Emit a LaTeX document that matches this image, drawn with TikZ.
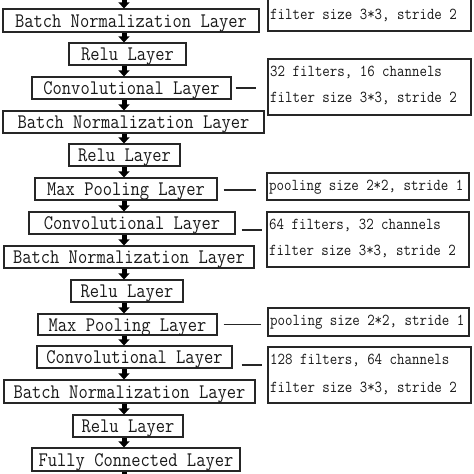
\documentclass[tikz,border=0pt]{standalone}
\usepackage{fontspec}
\usetikzlibrary{arrows.meta,calc}
\newcommand{\lbl}[1]{\scalebox{1}[1.15]{#1}}
\begin{document}
\begin{tikzpicture}[x=1pt,y=-1pt,
  lbox/.style={draw=black!85, line width=1.2pt, rectangle, inner sep=0pt,
    text height=13pt, text depth=0pt,
    font=\fontsize{18}{20}\selectfont\ttfamily\addfontfeature{FakeBold=0.8}, text=black!90},
  rbox/.style={draw=black!85, line width=1.2pt, rectangle, inner sep=0pt},
  rtext/.style={anchor=base west, inner sep=0pt,
    font=\fontsize{14.5}{17}\selectfont\ttfamily\addfontfeature{FakeBold=0.8}, text=black!90},
  flow/.style={line width=5pt, black, -{Triangle[width=11pt,length=6pt]}},
  link/.style={line width=1.1pt, black!85}]
\useasboundingbox (0,0) rectangle (474,474);
\fill[white] (0,0) rectangle (474,474);
\clip (0,0) rectangle (474,474);
\coordinate (ax) at (124,0);
\coordinate (topin) at (124,-8);
\coordinate (botout) at (124,490);
% left column
\node[lbox, minimum width=256, minimum height=23] (bn1) at (131,20.5) {\lbl{Batch Normalization Layer}};
\node[lbox, minimum width=117, minimum height=22] (relu1) at (127.5,54) {\lbl{Relu Layer}};
\node[lbox, minimum width=199, minimum height=22] (conv1) at (131.5,88) {\lbl{Convolutional Layer}};
\node[lbox, minimum width=261, minimum height=22] (bn2) at (133.5,122) {\lbl{Batch Normalization Layer}};
\node[lbox, minimum width=111, minimum height=22] (relu2) at (124.5,155) {\lbl{Relu Layer}};
\node[lbox, minimum width=182, minimum height=22] (pool1) at (126,189) {\lbl{Max Pooling Layer}};
\node[lbox, minimum width=206, minimum height=22] (conv2) at (132,223) {\lbl{Convolutional Layer}};
\node[lbox, minimum width=250, minimum height=22] (bn3) at (129,257) {\lbl{Batch Normalization Layer}};
\node[lbox, minimum width=112, minimum height=22] (relu3) at (127,291) {\lbl{Relu Layer}};
\node[lbox, minimum width=179, minimum height=21] (pool2) at (127.5,324.5) {\lbl{Max Pooling Layer}};
\node[lbox, minimum width=195, minimum height=22] (conv3) at (134.5,357) {\lbl{Convolutional Layer}};
\node[lbox, minimum width=251, minimum height=23] (bn4) at (129.5,391.5) {\lbl{Batch Normalization Layer}};
\node[lbox, minimum width=110, minimum height=22] (relu4) at (128,426) {\lbl{Relu Layer}};
\node[lbox, minimum width=208, minimum height=23] (fc) at (136,459.5) {\lbl{Fully Connected Layer}};
% right column
\node[rbox, minimum width=203, minimum height=56] (r0) at (369.5,3) {};
\node[rtext] (r0b) at (270,19.5) {\lbl{filter size 3*3, stride 2}};
\node[rbox, minimum width=203, minimum height=56] (r1) at (369.5,87) {};
\node[rtext] (r1a) at (270,76.5) {\lbl{32 filters, 16 channels}};
\node[rtext] (r1b) at (270,102.5) {\lbl{filter size 3*3, stride 2}};
\node[rbox, minimum width=202, minimum height=27] (p1) at (368,186.5) {};
\node[rtext] (p1a) at (269,190.5) {\lbl{pooling size 2*2, stride 1}};
\node[rbox, minimum width=202, minimum height=55] (r2) at (368,239.5) {};
\node[rtext] (r2a) at (269,229.5) {\lbl{64 filters, 32 channels}};
\node[rtext] (r2b) at (269,255.5) {\lbl{filter size 3*3, stride 2}};
\node[rbox, minimum width=201, minimum height=28] (p2) at (368.5,322) {};
\node[rtext] (p2a) at (270,325.5) {\lbl{pooling size 2*2, stride 1}};
\node[rbox, minimum width=203, minimum height=56] (r3) at (369.5,375) {};
\node[rtext] (r3a) at (270,364.5) {\lbl{128 filters, 64 channels}};
\node[rtext] (r3b) at (270,392.5) {\lbl{filter size 3*3, stride 2}};
% flow arrows
\draw[flow] (topin) -- (bn1.north -| ax);
\foreach \a/\b in {bn1/relu1, relu1/conv1, conv1/bn2, bn2/relu2, relu2/pool1,
  pool1/conv2, conv2/bn3, bn3/relu3, relu3/pool2, pool2/conv3, conv3/bn4,
  bn4/relu4, relu4/fc}
  \draw[flow] (\a.south -| ax) -- (\b.north -| ax);
\draw[flow] (fc.south -| ax) -- (botout);
% links
\draw[link, shorten <=4pt, shorten >=11pt] (conv1.east) -- (conv1.east -| r1.west);
\draw[link, shorten <=6pt, shorten >=10pt] ($(pool1.east)+(0,1)$) -- ($(pool1.east -| p1.west)+(0,1)$);
\draw[link, shorten <=6pt, shorten >=4pt] ($(conv2.east)+(0,7)$) -- ($(conv2.east -| r2.west)+(0,7)$);
\draw[link, shorten <=6pt, shorten >=6pt] (pool2.east) -- (pool2.east -| p2.west);
\draw[link, shorten <=9pt, shorten >=5pt] ($(conv3.east)+(0,8)$) -- ($(conv3.east -| r3.west)+(0,8)$);
\end{tikzpicture}
\end{document}
